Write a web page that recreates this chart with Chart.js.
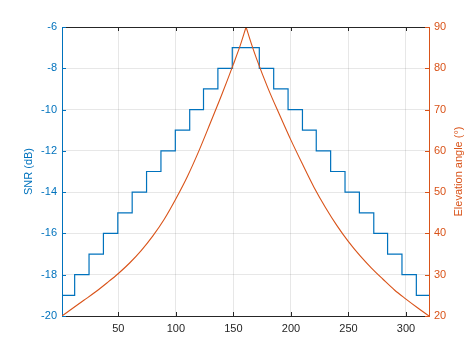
<!DOCTYPE html>
<html>
<head>
<meta charset="utf-8">
<script src="https://cdn.jsdelivr.net/npm/chart.js@4"></script>
<style>
  html, body { margin: 0; padding: 0; background: #fff; }
  #wrap { width: 474px; height: 355px; }
</style>
</head>
<body>
<div id="wrap"><canvas id="chart_id"></canvas></div>
<script>
// SNR steps: each value holds from its x up to the next x
const snr_x  = [1, 12, 24.5, 37, 49.5, 62, 74.5, 87, 99.5, 112, 124, 136.5, 149,
                172.5, 185, 197.5, 210, 222, 234.5, 247, 259.5, 272, 284, 296.5, 309, 320];
const snr_db = [-19, -18, -17, -16, -15, -14, -13, -12, -11, -10, -9, -8, -7,
                -8, -9, -10, -11, -12, -13, -14, -15, -16, -17, -18, -19, -19];

// elevation, rising part then falling part (they share the peak at 161)
const rise_x   = [1, 10, 20, 30, 40, 50, 60, 70, 80, 90, 100, 110, 120, 130, 140, 150, 156, 161];
const rise_deg = [20, 21.8, 23.8, 25.8, 28.0, 30.3, 32.9, 35.9, 39.4, 43.5, 48.4, 53.8, 60.0, 66.8, 73.7, 81.0, 85.6, 90];
const fall_x   = [161, 166, 170, 180, 190, 200, 210, 220, 230, 240, 250, 260, 270, 280, 290, 300, 310, 320];
const fall_deg = [90, 85.6, 82.4, 75.2, 68.8, 62.6, 56.8, 51.2, 46.3, 41.9, 38.0, 34.6, 31.6, 28.9, 26.3, 24.1, 22.0, 20];

const x_ticks = [50, 100, 150, 200, 250, 300];
const snr_ticks = [-20, -18, -16, -14, -12, -10, -8, -6];
const elev_ticks = [20, 30, 40, 50, 60, 70, 80, 90];

const blue = "#0072BD";
const orange = "#D95319";
const dark = "#262626";
const grid_color = "rgba(38,38,38,0.11)";

Chart.defaults.font.family = "'Liberation Sans', Arial, sans-serif";
Chart.defaults.font.size = 11;

const frame_plugin = {
  id: "frame",
  afterDatasetsDraw(chart) {
    const { ctx, chartArea: a, scales } = chart;
    ctx.save();
    ctx.lineWidth = 1;
    // top box edge and x ticks pointing in
    ctx.strokeStyle = dark;
    ctx.beginPath();
    ctx.moveTo(a.left, a.top + 0.5);
    ctx.lineTo(a.right, a.top + 0.5);
    x_ticks.forEach(v => {
      const px = Math.round(scales.x.getPixelForValue(v)) + 0.5;
      ctx.moveTo(px, a.bottom); ctx.lineTo(px, a.bottom - 4);
      ctx.moveTo(px, a.top); ctx.lineTo(px, a.top + 4);
    });
    ctx.stroke();
    ctx.strokeStyle = blue;
    ctx.beginPath();
    snr_ticks.forEach(v => {
      const py = Math.round(scales.y.getPixelForValue(v)) + 0.5;
      ctx.moveTo(a.left, py); ctx.lineTo(a.left + 4, py);
    });
    ctx.stroke();
    ctx.strokeStyle = orange;
    ctx.beginPath();
    elev_ticks.forEach(v => {
      const py = Math.round(scales.y2.getPixelForValue(v)) + 0.5;
      ctx.moveTo(a.right, py); ctx.lineTo(a.right - 4, py);
    });
    ctx.stroke();
    // right axis title, reading bottom to top like matlab
    ctx.fillStyle = orange;
    ctx.font = "11px 'Liberation Sans', Arial, sans-serif";
    ctx.textAlign = "center";
    ctx.textBaseline = "middle";
    ctx.translate(459, (a.top + a.bottom) / 2);
    ctx.rotate(-Math.PI / 2);
    ctx.fillText("Elevation angle (°)", 0, 0);
    ctx.restore();
  }
};

const elev_style = {
  yAxisID: "y2",
  borderColor: orange,
  borderWidth: 1.1,
  pointRadius: 0,
  cubicInterpolationMode: "monotone"
};

const ctx = document.getElementById("chart_id");
new Chart(ctx, {
  type: "line",
  data: {
    datasets: [{
      ...elev_style,
      label: "Elevation rise",
      data: rise_x.map((x, i) => ({ x: x, y: rise_deg[i] }))
    }, {
      ...elev_style,
      label: "Elevation fall",
      data: fall_x.map((x, i) => ({ x: x, y: fall_deg[i] }))
    }, {
      label: "SNR",
      data: snr_x.map((x, i) => ({ x: x, y: snr_db[i] })),
      yAxisID: "y",
      borderColor: blue,
      borderWidth: 1.2,
      pointRadius: 0,
      stepped: "before"
    }]
  },
  options: {
    responsive: true,
    maintainAspectRatio: false,
    animation: false,
    devicePixelRatio: 1,
    layout: { padding: { top: 27, left: 0, right: 0, bottom: 0 } },
    plugins: { legend: { display: false }, tooltip: { enabled: false } },
    scales: {
      x: {
        type: "linear",
        position: "bottom",
        min: 1,
        max: 320,
        afterFit: s => { s.height = 39; },
        afterBuildTicks: s => { s.ticks = x_ticks.map(v => ({ value: v })); },
        grid: { color: grid_color, drawTicks: false },
        border: { color: dark },
        ticks: { color: dark, padding: 6, maxRotation: 0 }
      },
      y: {
        type: "linear",
        position: "left",
        min: -20,
        max: -6,
        afterFit: s => { s.width = 62; },
        afterBuildTicks: s => { s.ticks = snr_ticks.map(v => ({ value: v })); },
        grid: { color: grid_color, drawTicks: false },
        border: { color: blue },
        ticks: { color: blue, padding: 5 },
        title: { display: true, text: "SNR (dB)", color: blue, padding: { top: 22 } }
      },
      y2: {
        type: "linear",
        position: "right",
        min: 20,
        max: 90,
        afterFit: s => { s.width = 45; },
        afterBuildTicks: s => { s.ticks = elev_ticks.map(v => ({ value: v })); },
        grid: { drawOnChartArea: false, drawTicks: false },
        border: { color: orange },
        ticks: { color: orange, padding: 5 }
      }
    }
  },
  plugins: [frame_plugin]
});
</script>
</body>
</html>
